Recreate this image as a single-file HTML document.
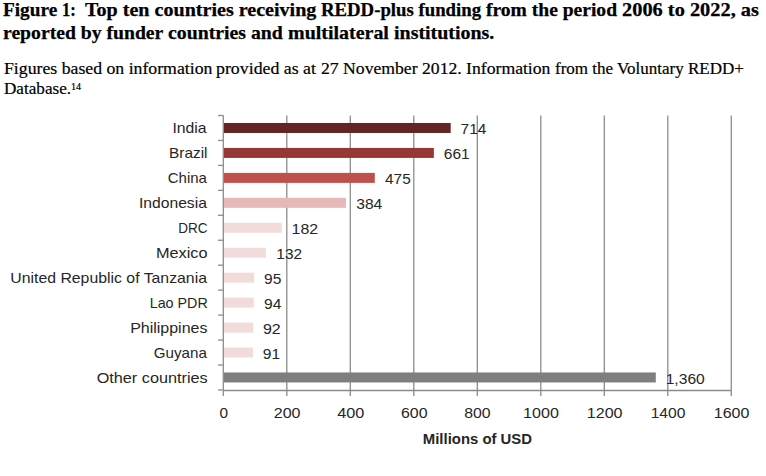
<!DOCTYPE html>
<html><head><meta charset="utf-8"><style>
html,body{margin:0;padding:0;background:#fff;width:766px;height:476px;overflow:hidden;}
.t{position:absolute;white-space:pre;color:#000;transform-origin:0 0;}
.h{font:bold 19px "Liberation Serif",serif;-webkit-text-stroke:0.25px #000;}
.s{font:16.3px "Liberation Serif",serif;-webkit-text-stroke:0.2px #000;}
svg{position:absolute;left:0;top:0;}
.cl,.dl,.tl{font-family:"Liberation Sans",sans-serif;font-size:15.5px;fill:#262626;}
.cl{font-size:15px;}
.at{font-family:"Liberation Sans",sans-serif;font-size:15px;font-weight:bold;fill:#262626;}
sup{font-size:9.5px;vertical-align:4.5px;}
</style></head><body>
<div class="t h" style="left:3.40px;top:-1px;transform:scaleX(1.0131)">Figure </div>
<div class="t h" style="left:62.40px;top:-1px;transform:scaleX(0.8725)">1:  </div>
<div class="t h" style="left:84.50px;top:-1px;transform:scaleX(1.0564)">Top ten countries receiving </div>
<div class="t h" style="left:320.90px;top:-1px;transform:scaleX(0.9872)">REDD-plus funding </div>
<div class="t h" style="left:485.60px;top:-1px;transform:scaleX(1.0287)">from the period </div>
<div class="t h" style="left:621.50px;top:-1px;transform:scaleX(1.0725)">2006 to 2022, as</div>
<div class="t h" style="left:3.40px;top:22px;transform:scaleX(1.0357)">reported by funder </div>
<div class="t h" style="left:168.30px;top:22px;transform:scaleX(1.0410)">countries and </div>
<div class="t h" style="left:288.10px;top:22px;transform:scaleX(1.0508)">multilateral </div>
<div class="t h" style="left:394.00px;top:22px;transform:scaleX(1.0496)">institutions.</div>
<div class="t s" style="left:3.50px;top:59px;transform:scaleX(1.0894)">Figures based on information </div>
<div class="t s" style="left:216.30px;top:59px;transform:scaleX(1.0948)">provided as at </div>
<div class="t s" style="left:320.75px;top:59px;transform:scaleX(1.0842)">27 November 2012. Information </div>
<div class="t s" style="left:554.60px;top:59px;transform:scaleX(1.0444)">from the Voluntary REDD+</div>
<div class="t s" style="left:3.5px;top:79px;transform:scaleX(1.052)">Database.<sup>14</sup></div>
<svg width="766" height="476" viewBox="0 0 766 476">
<line x1="286.80" y1="115.5" x2="286.80" y2="390.5" stroke="#8c8c8c" stroke-width="1.3"/>
<line x1="350.30" y1="115.5" x2="350.30" y2="390.5" stroke="#8c8c8c" stroke-width="1.3"/>
<line x1="413.80" y1="115.5" x2="413.80" y2="390.5" stroke="#8c8c8c" stroke-width="1.3"/>
<line x1="477.30" y1="115.5" x2="477.30" y2="390.5" stroke="#8c8c8c" stroke-width="1.3"/>
<line x1="540.80" y1="115.5" x2="540.80" y2="390.5" stroke="#8c8c8c" stroke-width="1.3"/>
<line x1="604.30" y1="115.5" x2="604.30" y2="390.5" stroke="#8c8c8c" stroke-width="1.3"/>
<line x1="667.80" y1="115.5" x2="667.80" y2="390.5" stroke="#8c8c8c" stroke-width="1.3"/>
<line x1="731.30" y1="115.5" x2="731.30" y2="390.5" stroke="#8c8c8c" stroke-width="1.3"/>
<line x1="223.3" y1="115.5" x2="223.3" y2="390.5" stroke="#8c8c8c" stroke-width="1.3"/>
<line x1="223.3" y1="390.5" x2="731.3" y2="390.5" stroke="#8c8c8c" stroke-width="1.3"/>
<line x1="218" y1="115.50" x2="223.3" y2="115.50" stroke="#8c8c8c" stroke-width="1.3"/>
<line x1="218" y1="140.45" x2="223.3" y2="140.45" stroke="#8c8c8c" stroke-width="1.3"/>
<line x1="218" y1="165.40" x2="223.3" y2="165.40" stroke="#8c8c8c" stroke-width="1.3"/>
<line x1="218" y1="190.35" x2="223.3" y2="190.35" stroke="#8c8c8c" stroke-width="1.3"/>
<line x1="218" y1="215.30" x2="223.3" y2="215.30" stroke="#8c8c8c" stroke-width="1.3"/>
<line x1="218" y1="240.25" x2="223.3" y2="240.25" stroke="#8c8c8c" stroke-width="1.3"/>
<line x1="218" y1="265.20" x2="223.3" y2="265.20" stroke="#8c8c8c" stroke-width="1.3"/>
<line x1="218" y1="290.15" x2="223.3" y2="290.15" stroke="#8c8c8c" stroke-width="1.3"/>
<line x1="218" y1="315.10" x2="223.3" y2="315.10" stroke="#8c8c8c" stroke-width="1.3"/>
<line x1="218" y1="340.05" x2="223.3" y2="340.05" stroke="#8c8c8c" stroke-width="1.3"/>
<line x1="218" y1="365.00" x2="223.3" y2="365.00" stroke="#8c8c8c" stroke-width="1.3"/>
<line x1="218" y1="389.95" x2="223.3" y2="389.95" stroke="#8c8c8c" stroke-width="1.3"/>
<line x1="223.30" y1="390.5" x2="223.30" y2="396" stroke="#8c8c8c" stroke-width="1.3"/>
<line x1="286.80" y1="390.5" x2="286.80" y2="396" stroke="#8c8c8c" stroke-width="1.3"/>
<line x1="350.30" y1="390.5" x2="350.30" y2="396" stroke="#8c8c8c" stroke-width="1.3"/>
<line x1="413.80" y1="390.5" x2="413.80" y2="396" stroke="#8c8c8c" stroke-width="1.3"/>
<line x1="477.30" y1="390.5" x2="477.30" y2="396" stroke="#8c8c8c" stroke-width="1.3"/>
<line x1="540.80" y1="390.5" x2="540.80" y2="396" stroke="#8c8c8c" stroke-width="1.3"/>
<line x1="604.30" y1="390.5" x2="604.30" y2="396" stroke="#8c8c8c" stroke-width="1.3"/>
<line x1="667.80" y1="390.5" x2="667.80" y2="396" stroke="#8c8c8c" stroke-width="1.3"/>
<line x1="731.30" y1="390.5" x2="731.30" y2="396" stroke="#8c8c8c" stroke-width="1.3"/>
<rect x="224.00" y="122.97" width="226.69" height="10" fill="#632523"/>
<rect x="224.00" y="147.93" width="209.87" height="10" fill="#953735"/>
<rect x="224.00" y="172.88" width="150.81" height="10" fill="#C0504D"/>
<rect x="224.00" y="197.82" width="121.92" height="10" fill="#E6B9B8"/>
<rect x="224.00" y="222.77" width="57.79" height="10" fill="#F2DCDB"/>
<rect x="224.00" y="247.72" width="41.91" height="10" fill="#F2DCDB"/>
<rect x="224.00" y="272.67" width="30.16" height="10" fill="#F2DCDB"/>
<rect x="224.00" y="297.62" width="29.84" height="10" fill="#F2DCDB"/>
<rect x="224.00" y="322.57" width="29.21" height="10" fill="#F2DCDB"/>
<rect x="224.00" y="347.52" width="28.89" height="10" fill="#F2DCDB"/>
<rect x="224.00" y="372.47" width="431.80" height="10" fill="#7F7F7F"/>
<text id="c0" x="206.58" y="133.17" text-anchor="end" class="cl" textLength="34.18" lengthAdjust="spacingAndGlyphs">India</text>
<text id="d0" x="460.62" y="134.47" class="dl" textLength="25.70" lengthAdjust="spacingAndGlyphs">714</text>
<text id="c1" x="207.52" y="158.12" text-anchor="end" class="cl" textLength="38.45" lengthAdjust="spacingAndGlyphs">Brazil</text>
<text id="d1" x="443.87" y="159.43" class="dl" textLength="25.79" lengthAdjust="spacingAndGlyphs">661</text>
<text id="c2" x="206.92" y="183.07" text-anchor="end" class="cl" textLength="39.12" lengthAdjust="spacingAndGlyphs">China</text>
<text id="d2" x="385.06" y="184.38" class="dl" textLength="25.64" lengthAdjust="spacingAndGlyphs">475</text>
<text id="c3" x="206.92" y="208.02" text-anchor="end" class="cl" textLength="68.00" lengthAdjust="spacingAndGlyphs">Indonesia</text>
<text id="d3" x="356.22" y="209.32" class="dl" textLength="26.09" lengthAdjust="spacingAndGlyphs">384</text>
<text id="c4" x="207.58" y="232.97" text-anchor="end" class="cl" textLength="29.30" lengthAdjust="spacingAndGlyphs">DRC</text>
<text id="d4" x="291.59" y="234.27" class="dl" textLength="26.59" lengthAdjust="spacingAndGlyphs">182</text>
<text id="c5" x="207.50" y="257.93" text-anchor="end" class="cl" textLength="51.60" lengthAdjust="spacingAndGlyphs">Mexico</text>
<text id="d5" x="276.36" y="259.23" class="dl" textLength="25.79" lengthAdjust="spacingAndGlyphs">132</text>
<text id="c6" x="207.00" y="282.87" text-anchor="end" class="cl" textLength="196.74" lengthAdjust="spacingAndGlyphs">United Republic of Tanzania</text>
<text id="d6" x="264.11" y="284.17" class="dl" textLength="17.29" lengthAdjust="spacingAndGlyphs">95</text>
<text id="c7" x="207.73" y="307.82" text-anchor="end" class="cl" textLength="58.04" lengthAdjust="spacingAndGlyphs">Lao PDR</text>
<text id="d7" x="264.05" y="309.12" class="dl" textLength="17.39" lengthAdjust="spacingAndGlyphs">94</text>
<text id="c8" x="207.40" y="332.77" text-anchor="end" class="cl" textLength="77.23" lengthAdjust="spacingAndGlyphs">Philippines</text>
<text id="d8" x="262.96" y="334.07" class="dl" textLength="17.82" lengthAdjust="spacingAndGlyphs">92</text>
<text id="c9" x="206.90" y="357.72" text-anchor="end" class="cl" textLength="53.09" lengthAdjust="spacingAndGlyphs">Guyana</text>
<text id="d9" x="262.89" y="359.02" class="dl" textLength="17.30" lengthAdjust="spacingAndGlyphs">91</text>
<text id="c10" x="207.65" y="382.67" text-anchor="end" class="cl" textLength="111.00" lengthAdjust="spacingAndGlyphs">Other countries</text>
<text id="d10" x="665.70" y="383.97" class="dl" textLength="39.07" lengthAdjust="spacingAndGlyphs">1,360</text>
<text id="t0" x="223.65" y="417.70" text-anchor="middle" class="tl" textLength="8.53" lengthAdjust="spacingAndGlyphs">0</text>
<text id="t1" x="287.13" y="417.70" text-anchor="middle" class="tl" textLength="26.83" lengthAdjust="spacingAndGlyphs">200</text>
<text id="t2" x="350.77" y="417.70" text-anchor="middle" class="tl" textLength="27.12" lengthAdjust="spacingAndGlyphs">400</text>
<text id="t3" x="414.23" y="417.70" text-anchor="middle" class="tl" textLength="26.57" lengthAdjust="spacingAndGlyphs">600</text>
<text id="t4" x="477.45" y="417.70" text-anchor="middle" class="tl" textLength="26.40" lengthAdjust="spacingAndGlyphs">800</text>
<text id="t5" x="541.02" y="417.70" text-anchor="middle" class="tl" textLength="35.80" lengthAdjust="spacingAndGlyphs">1000</text>
<text id="t6" x="604.67" y="417.70" text-anchor="middle" class="tl" textLength="35.80" lengthAdjust="spacingAndGlyphs">1200</text>
<text id="t7" x="668.05" y="417.70" text-anchor="middle" class="tl" textLength="34.79" lengthAdjust="spacingAndGlyphs">1400</text>
<text id="t8" x="731.58" y="417.70" text-anchor="middle" class="tl" textLength="35.61" lengthAdjust="spacingAndGlyphs">1600</text>
<text id="ax" x="477.45" y="444.00" text-anchor="middle" class="at" textLength="109.26" lengthAdjust="spacingAndGlyphs">Millions of USD</text>
</svg>
</body></html>
